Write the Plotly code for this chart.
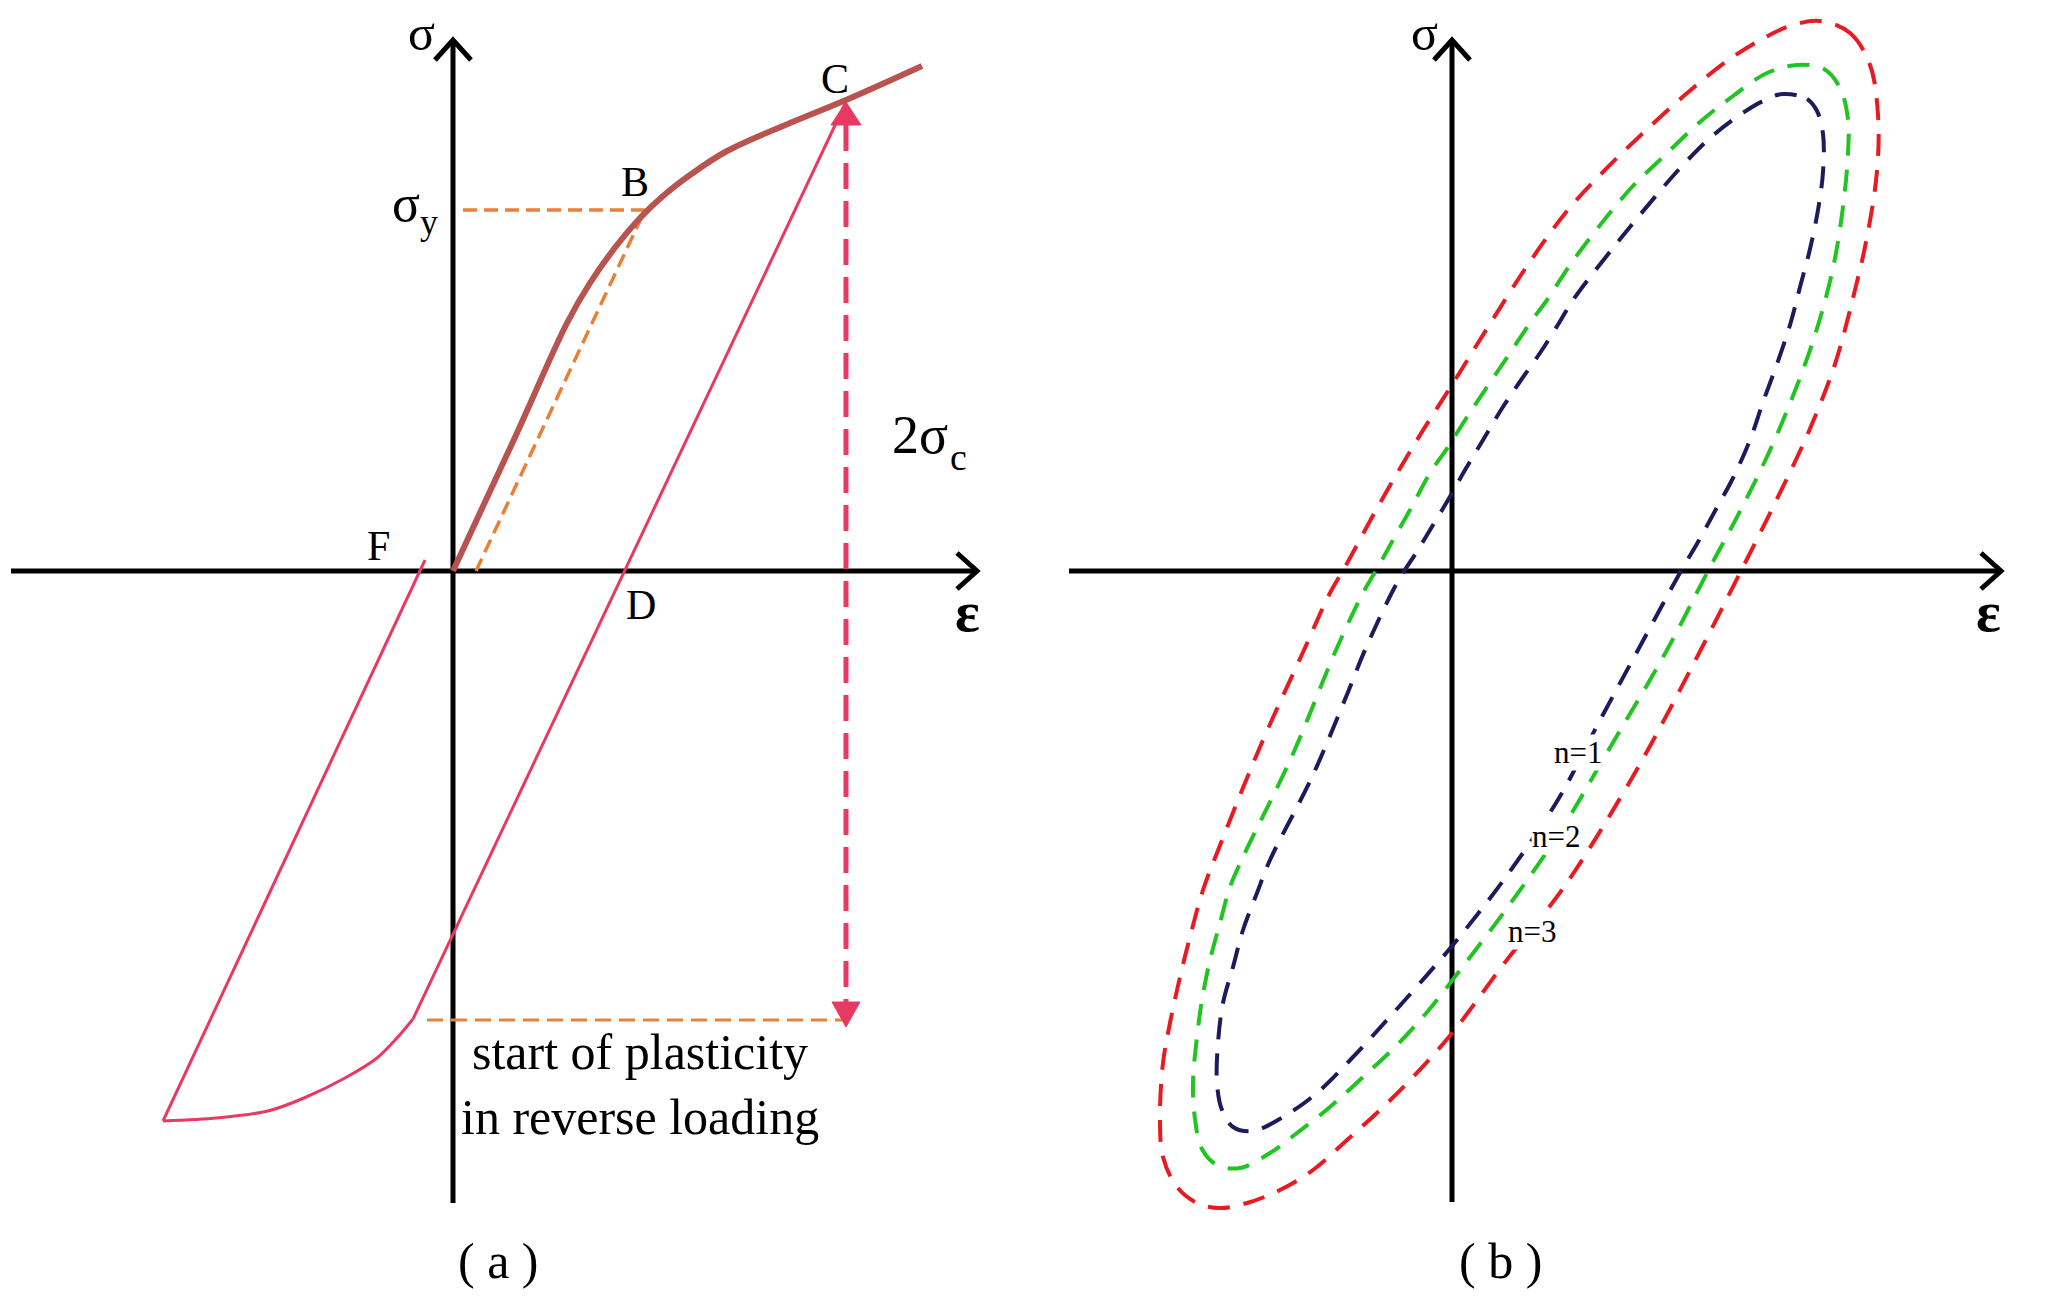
import plotly.graph_objects as go

# ---------------- Panel (a): coordinates relative to the axis origin ----------------
a_haxis_x = [-442, 524]
a_vaxis_y = [-632, 531]

# monotonic loading curve O -> B -> C -> beyond
mono_eps = [0, 64, 114, 137, 164, 187, 210, 237, 274, 337, 393, 469]
mono_sig = [0, 138, 248, 288, 326, 353, 375, 396, 420, 448, 471, 505]

# yield guide (orange dashed): sigma_y level and elastic line from B
yield_eps = [10, 192, 23]
yield_sig = [361, 361, 0]

# unloading from C through D, straight part
unload_eps = [393, -40]
unload_sig = [469, -448]
# reverse plastic part (curve)
reverse_eps = [-40, -56, -76, -108, -149, -185, -236, -290]
reverse_sig = [-448, -467, -487, -507, -527, -540, -547, -550]
# reloading line up to F
reload_eps = [-290, -28]
reload_sig = [-550, 11]

# start of plasticity in reverse loading (orange dashed)
rev_start_eps = [-26, 389]
rev_start_sig = [-449, -449]

# 2 sigma_c double arrow
range_eps = 393
range_sig = [446, -431]
range_tip_top = 469
range_tip_bot = -456

# ---------------- Panel (b) ----------------
b_haxis_x = [-383, 549]
b_vaxis_y = [-631, 531]

loop3_eps = [368, 398, 418, 426, 425, 415, 401, 383, 357, 324, 289, 243, 204, 173, 112, 51, 1, -39, -72,
             -105, -139, -172, -205, -232, -255, -275, -289, -292, -289, -282, -272, -262, -249, -235,
             -192, -148, -122, -107, -72, -35, 3, 36, 75, 115, 150, 190, 234, 275, 310, 338, 368]
loop3_sig = [550, 538, 506, 456, 400, 334, 273, 207, 140, 70, 0, -90, -164, -219, -316, -394, -461,
             -506, -539, -569, -599, -619, -632, -637, -632, -616, -586, -546, -492, -452, -406, -366,
             -319, -282, -176, -79, -22, 4, 68, 131, 191, 244, 305, 360, 398, 437, 477, 510, 532, 545, 550]

loop2_eps = [345, 372, 388, 396, 396, 391, 381, 363, 339, 313, 284, 256, 215, 153, 108, 58, 12, -24,
             -55, -89, -122, -155, -182, -212, -235, -250, -257, -259, -255, -250, -242, -232, -222,
             -209, -160, -116, -89, -74, -59, -42, -22, -4, 15, 35, 58, 78, 95, 118, 145, 180, 211, 248,
             281, 315, 345]
loop2_sig = [506, 502, 483, 452, 418, 364, 303, 236, 170, 110, 52, 0, -79, -185, -261, -333, -394,
             -440, -474, -506, -536, -562, -582, -597, -594, -578, -548, -512, -466, -429, -389, -352,
             -316, -286, -185, -79, -22, 4, 31, 61, 98, 124, 154, 184, 218, 248, 271, 306, 342, 384, 414,
             449, 475, 498, 506]

loop1_eps = [331, 355, 365, 371, 371, 366, 358, 348, 338, 325, 311, 298, 281, 263, 246, 229, 186, 147,
             107, 56, 5, -32, -65, -99, -135, -169, -199, -219, -230, -235, -234, -229, -219, -209, -195,
             -182, -140, -106, -87, -55, -36, -22, -4, 13, 31, 49, 67, 88, 107, 121, 165, 208, 231, 258,
             285, 311, 331]
loop1_sig = [477, 472, 460, 437, 399, 361, 322, 284, 246, 207, 169, 131, 93, 60, 29, 0, -79, -151,
             -227, -303, -369, -412, -449, -486, -522, -546, -560, -556, -539, -512, -472, -432, -396,
             -359, -322, -289, -206, -126, -79, -12, 18, 41, 71, 101, 131, 161, 188, 218, 248, 271, 328,
             380, 406, 433, 454, 470, 477]

loop_labels = ["n=1", "n=2", "n=3"]
loop_label_eps = [126, 104, 80]
loop_label_sig = [-181, -265, -360]

# ---------------- styles ----------------
BLACK = "#000000"
BROWN = "#b9534f"
PINK = "#e73a62"
ORANGE = "#e8803a"
RED = "#e81a22"
GREEN = "#22c422"
NAVY = "#1c1c5c"
FONT = "Liberation Serif"

fig = go.Figure()


def line(x, y, color, width, dash="solid", ax="", shape="linear", smoothing=1.0):
    fig.add_trace(go.Scatter(
        x=x, y=y, mode="lines",
        line=dict(color=color, width=width, dash=dash, shape=shape, smoothing=smoothing),
        xaxis="x" + ax, yaxis="y" + ax, hoverinfo="skip", showlegend=False))


def tri(x, y, color, ax=""):
    fig.add_trace(go.Scatter(
        x=x, y=y, mode="lines", fill="toself", fillcolor=color,
        line=dict(color=color, width=1), xaxis="x" + ax, yaxis="y" + ax,
        hoverinfo="skip", showlegend=False))


def axes(hx, vy, ax=""):
    line(hx, [0, 0], BLACK, 5, ax=ax)
    line([0, 0], vy, BLACK, 5, ax=ax)
    t = hx[1]
    line([t - 20, t, t - 20], [18, 0, -18], BLACK, 5, ax=ax)
    v = vy[1]
    line([-18, 0, 18], [v - 20, v, v - 20], BLACK, 5, ax=ax)


# Panel (a)
axes(a_haxis_x, a_vaxis_y)
line(yield_eps, yield_sig, ORANGE, 3.5, dash="14px,7px")
line(rev_start_eps, rev_start_sig, ORANGE, 3, dash="16px,8px")
line(unload_eps, unload_sig, PINK, 3)
line(reverse_eps, reverse_sig, PINK, 3, shape="spline", smoothing=0.8)
line(reload_eps, reload_sig, PINK, 3)
line(mono_eps, mono_sig, BROWN, 6, shape="spline", smoothing=1.0)
line([range_eps, range_eps], range_sig, PINK, 5, dash="26px,12px")
tri([range_eps - 15, range_eps, range_eps + 15, range_eps - 15],
    [range_sig[0], range_tip_top, range_sig[0], range_sig[0]], PINK)
tri([range_eps - 14, range_eps, range_eps + 14, range_eps - 14],
    [range_sig[1], range_tip_bot, range_sig[1], range_sig[1]], PINK)

# Panel (b)
axes(b_haxis_x, b_vaxis_y, ax="2")
line(loop3_eps, loop3_sig, RED, 4, dash="22px,14px", ax="2", shape="spline", smoothing=1.0)
line(loop2_eps, loop2_sig, GREEN, 4, dash="22px,14px", ax="2", shape="spline", smoothing=1.0)
line(loop1_eps, loop1_sig, NAVY, 4, dash="22px,14px", ax="2", shape="spline", smoothing=1.0)

ann = []


def text(x, y, s, size, ax="", bold=False, bg=None):
    d = dict(x=x, y=y, xref="x" + ax, yref="y" + ax, text=s,
             showarrow=False,
             font=dict(family=FONT, size=size, color=BLACK, weight="bold" if bold else "normal"),
             xanchor="center", yanchor="middle")
    if bg:
        d["bgcolor"] = bg
        d["borderpad"] = 0
    ann.append(d)


text(-32, 538, "σ", 50)
text(-47, 368, "σ", 52)
text(-24, 349, "y", 36)
text(182, 389, "B", 42)
text(382, 492, "C", 42)
text(-75, 25, "F", 42)
text(188, -34, "D", 42)
text(514, -40, "ε", 58, bold=True)
text(467, 136, "2σ", 54)
text(505, 114, "c", 38)
text(187, -481, "start of plasticity", 50)
text(187, -546, "in reverse loading", 50)
text(45, -690, "( a )", 50)

text(-28, 538, "σ", 50, ax="2")
text(536, -40, "ε", 58, ax="2", bold=True)
text(48, -690, "( b )", 50, ax="2")
for s, ex, sy in zip(loop_labels, loop_label_eps, loop_label_sig):
    text(ex, sy, s, 31, ax="2", bg="white")

fig.update_layout(
    width=2048, height=1312,
    margin=dict(l=0, r=0, t=0, b=0),
    paper_bgcolor="white", plot_bgcolor="white",
    showlegend=False,
    annotations=ann,
    xaxis=dict(domain=[0, 0.5], range=[-453, 571], visible=False, fixedrange=True),
    yaxis=dict(domain=[0, 1], range=[-741, 571], visible=False, fixedrange=True),
    xaxis2=dict(domain=[0.5, 1], range=[-428, 596], visible=False, fixedrange=True, anchor="y2"),
    yaxis2=dict(domain=[0, 1], range=[-741, 571], visible=False, fixedrange=True, anchor="x2"),
)

fig.write_html("out.html")
